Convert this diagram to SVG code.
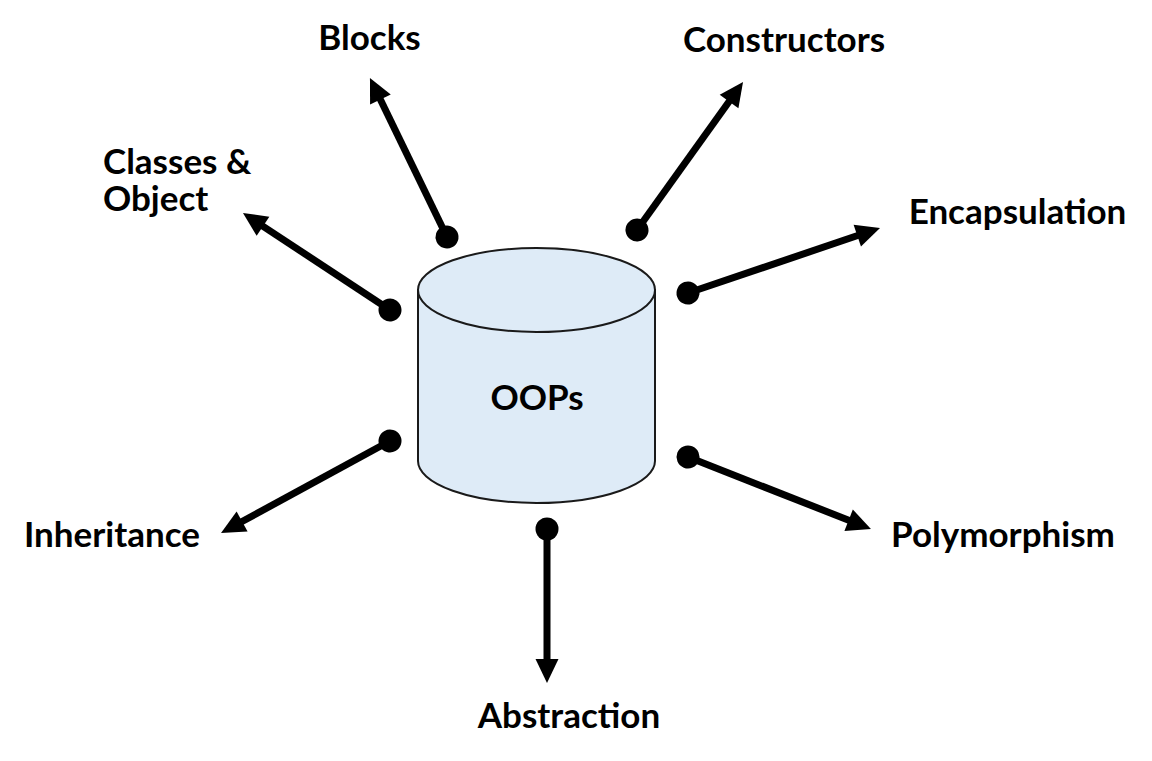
<svg xmlns="http://www.w3.org/2000/svg" width="1152" height="761" viewBox="0 0 1152 761">
<style>
.lbl{font-family:"Lato","Liberation Sans",sans-serif;font-weight:700;font-size:35px;fill:#000}
.conn{stroke:#000;stroke-width:7;fill:none;marker-start:url(#dot);marker-end:url(#arrow)}
.cyl{fill:#DEEBF7;stroke:#1a1a1a;stroke-width:2}
</style>
<defs>
<marker id="arrow" markerUnits="userSpaceOnUse" markerWidth="24" markerHeight="23" refX="9" refY="11.5" orient="auto" overflow="visible">
<path d="M0,0 L24,11.5 L0,23 Z" fill="#000"/>
</marker>
<marker id="dot" markerUnits="userSpaceOnUse" markerWidth="24" markerHeight="24" refX="12" refY="12" orient="auto" overflow="visible">
<circle cx="12" cy="12" r="11.5" fill="#000"/>
</marker>
</defs>
<rect width="1152" height="761" fill="#fff"/>
<g id="connectors">
<path class="conn" d="M447,237 L376.5,91.5"/>
<path class="conn" d="M390,310 L255.5,221.3"/>
<path class="conn" d="M637,230 L734.3,94.2"/>
<path class="conn" d="M688,293 L865.8,232.8"/>
<path class="conn" d="M390,441 L234.2,525.8"/>
<path class="conn" d="M688,457 L857,523.5"/>
<path class="conn" d="M547,529 L547,668"/>
</g>
<g id="oops">
<path class="cyl" d="M418,290 L418,461 A118.5,42 0 0 0 655,461 L655,290 Z"/>
<ellipse class="cyl" cx="536.5" cy="290" rx="118.5" ry="42"/>
<text class="lbl" x="537" y="410" text-anchor="middle">OOPs</text>
</g>
<g id="blocks"><text class="lbl" x="369.5" y="50" text-anchor="middle">Blocks</text></g>
<g id="classes"><text class="lbl"><tspan x="103" y="174">Classes &amp;</tspan><tspan x="103" y="211">Object</tspan></text></g>
<g id="constructors"><text class="lbl" x="784" y="52" text-anchor="middle">Constructors</text></g>
<g id="encapsulation"><text class="lbl" x="1017.5" y="224" text-anchor="middle">Encapsulation</text></g>
<g id="inheritance"><text class="lbl" x="112" y="547" text-anchor="middle">Inheritance</text></g>
<g id="polymorphism"><text class="lbl" x="1003" y="547" text-anchor="middle">Polymorphism</text></g>
<g id="abstraction"><text class="lbl" x="569" y="728" text-anchor="middle">Abstraction</text></g>
</svg>
